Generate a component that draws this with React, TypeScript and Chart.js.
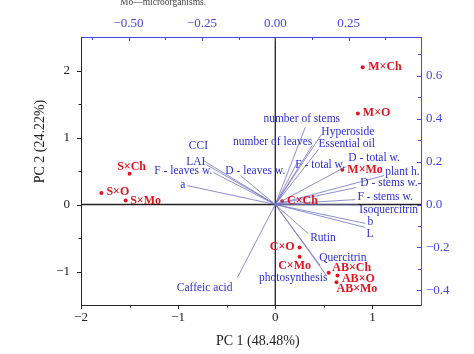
import React, { useEffect, useRef } from 'react';
import { Chart, registerables } from 'chart.js';
Chart.register(...registerables);

// ---- data ----
const treatments = ['M×Ch', 'M×O', 'M×Mo', 'C×Ch', 'C×O', 'C×Mo', 'AB×Ch', 'AB×O', 'AB×Mo', 'S×Ch', 'S×O', 'S×Mo'];
const pc1Scores = [0.90, 0.85, 0.69, 0.07, 0.25, 0.25, 0.55, 0.64, 0.63, -1.50, -1.79, -1.54];
const pc2Scores = [2.05, 1.36, 0.52, 0.05, -0.64, -0.78, -1.02, -1.06, -1.16, 0.46, 0.17, 0.06];

const variables = [
  'number of stems', 'Hyperoside', 'number of leaves', 'Essential oil', 'F - total w.', 'D - total w.',
  'plant h.', 'D - stems w.', 'F - stems w.', 'Isoquercitrin', 'b', 'L', 'Rutin', 'Quercitrin',
  'photosynthesis', 'Caffeic acid', 'a', 'F - leaves w.', 'LAI', 'CCI', 'D - leaves w.',
];
const pc1Loadings = [0.102, 0.157, 0.126, 0.147, 0.075, 0.242, 0.371, 0.276, 0.273, 0.283, 0.307, 0.307, 0.112, 0.153, 0.174, -0.129, -0.300, -0.211, -0.235, -0.245, -0.119];
const pc2Loadings = [0.359, 0.326, 0.275, 0.256, 0.196, 0.177, 0.135, 0.079, 0.023, -0.002, -0.088, -0.107, -0.135, -0.284, -0.330, -0.340, 0.088, 0.149, 0.186, 0.205, 0.135];

const pc1Ticks = [-2, -1, 0, 1];
const pc1Minor = [-1.5, -0.5, 0.5];
const pc2Ticks = [-1, 0, 1, 2];
const pc2Minor = [-0.5, 0.5, 1.5];
const load1Ticks = [-0.5, -0.25, 0, 0.25];
const load1Minor = [-0.625, -0.375, -0.125, 0.125, 0.375];
const load2Ticks = [-0.4, -0.2, 0, 0.2, 0.4, 0.6];
const load2Minor = [-0.3, -0.1, 0.1, 0.3, 0.5, 0.7];

// ---- label placement styles (pixel offsets, alignment) ----
type Place = [number, number, CanvasTextAlign];
const scoreLabelPlace: Place[] = [
  [5.5, 0, 'left'], [5, 0, 'left'], [5, 0, 'left'], [5, 0, 'left'], [-5, 0, 'right'], [-5, 9, 'center'],
  [3.5, -5, 'left'], [4.5, 3, 'left'], [0, 7, 'left'], [2, -7, 'center'], [5, -1, 'left'], [4.5, 0.5, 'left'],
];
const varLabelPlace: Place[] = [
  [-3.5, -8, 'center'], [0, -3, 'left'], [0, -3, 'right'], [0, -6, 'left'], [-2, 3, 'left'], [2, -9, 'left'],
  [1, -4, 'left'], [4, -5, 'left'], [2, -3, 'left'], [1, 5, 'left'], [2, -1, 'left'], [1, 7, 'left'],
  [2, 4, 'left'], [-1, -8, 'left'], [1, 3, 'right'], [-5, 10, 'right'], [-2, -1, 'right'], [-1, -2, 'right'],
  [-1, -3, 'right'], [-5, -14, 'center'], [-15, -5, 'left'],
];

const SERIF = "'Liberation Serif', 'Times New Roman', serif";
const RED = '#e3141f';
const BLUE_AXIS = '#4646e6';
const BLUE_TEXT = '#2f2fcf';
const VEC = 'rgba(115,115,195,0.8)';

const minus = (s: string) => s.replace('-', '\u2212');

function drawTickMarks(ctx: CanvasRenderingContext2D, scale: any, values: number[], len: number, side: string, color: string) {
  ctx.save();
  ctx.strokeStyle = color;
  ctx.lineWidth = 1;
  ctx.beginPath();
  for (const v of values) {
    const p = Math.round(scale.getPixelForValue(v)) + 0.5;
    if (side === 'bottom') { ctx.moveTo(p, scale.top); ctx.lineTo(p, scale.top + len); }
    if (side === 'top') { ctx.moveTo(p, scale.bottom); ctx.lineTo(p, scale.bottom + len); }
    if (side === 'left') { ctx.moveTo(scale.right, p); ctx.lineTo(scale.right - len, p); }
    if (side === 'right') { ctx.moveTo(scale.left, p); ctx.lineTo(scale.left - len, p); }
  }
  ctx.stroke();
  ctx.restore();
}

const overlay = {
  id: 'overlay',
  beforeDatasetsDraw(chart: any) {
    const { ctx, chartArea: a, scales } = chart;
    const x0 = scales.x.getPixelForValue(0);
    const y0 = scales.y.getPixelForValue(0);
    ctx.save();
    ctx.strokeStyle = '#222';
    ctx.lineWidth = 1.3;
    ctx.beginPath();
    ctx.moveTo(x0, a.top); ctx.lineTo(x0, a.bottom);
    ctx.moveTo(a.left, y0); ctx.lineTo(a.right, y0);
    ctx.stroke();
    ctx.restore();
  },
  afterDatasetsDraw(chart: any) {
    const { ctx, scales } = chart;
    ctx.save();
    ctx.textBaseline = 'middle';
    ctx.font = `11.5px ${SERIF}`;
    ctx.fillStyle = BLUE_TEXT;
    variables.forEach((name, i) => {
      const px = scales.x2.getPixelForValue(pc1Loadings[i]);
      const py = scales.y2.getPixelForValue(pc2Loadings[i]);
      const [dx, dy, al] = varLabelPlace[i];
      ctx.textAlign = al;
      ctx.fillText(name, px + dx, py + dy);
    });
    ctx.font = `bold 12px ${SERIF}`;
    ctx.fillStyle = RED;
    treatments.forEach((name, i) => {
      const px = scales.x.getPixelForValue(pc1Scores[i]);
      const py = scales.y.getPixelForValue(pc2Scores[i]);
      const [dx, dy, al] = scoreLabelPlace[i];
      ctx.textAlign = al;
      ctx.fillText(name, px + dx, py + dy);
    });
    ctx.restore();
  },
  afterDraw(chart: any) {
    const { ctx, scales, chartArea: a } = chart;
    drawTickMarks(ctx, scales.x, pc1Ticks, 4, 'bottom', '#222');
    drawTickMarks(ctx, scales.x, pc1Minor, 2.5, 'bottom', '#222');
    drawTickMarks(ctx, scales.y, pc2Ticks, 4, 'left', '#222');
    drawTickMarks(ctx, scales.y, pc2Minor, 2.5, 'left', '#222');
    drawTickMarks(ctx, scales.x2, load1Ticks, 4, 'top', BLUE_AXIS);
    drawTickMarks(ctx, scales.x2, load1Minor, 3, 'top', BLUE_AXIS);
    drawTickMarks(ctx, scales.y2, load2Ticks, 4, 'right', BLUE_AXIS);
    drawTickMarks(ctx, scales.y2, load2Minor, 3, 'right', BLUE_AXIS);
    ctx.save();
    ctx.fillStyle = '#222';
    ctx.font = `14px ${SERIF}`;
    ctx.textAlign = 'center';
    ctx.textBaseline = 'middle';
    ctx.fillText('PC 1 (48.48%)', a.left + (a.right - a.left) * 0.52, 341);
    ctx.translate(40, a.top + (a.bottom - a.top) * 0.39);
    ctx.rotate(-Math.PI / 2);
    ctx.fillText('PC 2 (24.22%)', 0, 0);
    ctx.restore();
    ctx.save();
    ctx.fillStyle = '#444';
    ctx.font = `9.5px ${SERIF}`;
    ctx.textAlign = 'left';
    ctx.textBaseline = 'alphabetic';
    ctx.fillText('Mo\u2014microorganisms.', 120, 5);
    ctx.restore();
  },
};

export default function App() {
  const ref = useRef<HTMLCanvasElement | null>(null);
  useEffect(() => {
    if (!ref.current) return;
    const datasets: any[] = variables.map((v, i) => ({
      label: v,
      type: 'scatter',
      data: [{ x: 0, y: 0 }, { x: pc1Loadings[i], y: pc2Loadings[i] }],
      xAxisID: 'x2',
      yAxisID: 'y2',
      showLine: true,
      borderColor: VEC,
      borderWidth: 1,
      pointRadius: 0,
      fill: false,
    }));
    datasets.push({
      label: 'scores',
      type: 'scatter',
      data: pc1Scores.map((x, i) => ({ x, y: pc2Scores[i] })),
      xAxisID: 'x',
      yAxisID: 'y',
      pointRadius: 2,
      pointBackgroundColor: RED,
      pointBorderColor: RED,
      pointBorderWidth: 0,
    });
    const tickFont = { family: SERIF, size: 13 };
    const chart = new Chart(ref.current, {
      type: 'scatter',
      data: { datasets },
      options: {
        animation: false,
        responsive: false,
        devicePixelRatio: 1,
        layout: { padding: 0 },
        plugins: { legend: { display: false }, tooltip: { enabled: false } },
        scales: {
          x: {
            type: 'linear', position: 'bottom', min: -2, max: 1.5,
            afterBuildTicks: (s: any) => { s.ticks = pc1Ticks.map((value) => ({ value })); },
            afterFit: (s: any) => { s.height = 49; },
            grid: { display: false, drawTicks: false },
            border: { display: true, color: '#222', width: 1 },
            ticks: { color: '#222', font: tickFont, padding: 5, callback: (v: any) => minus(String(v)) },
          },
          y: {
            type: 'linear', position: 'left', min: -1.5, max: 2.5,
            afterBuildTicks: (s: any) => { s.ticks = pc2Ticks.map((value) => ({ value })); },
            afterFit: (s: any) => { s.width = 81; },
            grid: { display: false, drawTicks: false },
            border: { display: true, color: '#222', width: 1 },
            ticks: { color: '#222', font: tickFont, padding: 11, callback: (v: any) => minus(String(v)) },
          },
          x2: {
            type: 'linear', position: 'top', min: -0.662, max: 0.4965,
            afterBuildTicks: (s: any) => { s.ticks = load1Ticks.map((value) => ({ value })); },
            afterFit: (s: any) => { s.height = 37; },
            grid: { display: false, drawTicks: false },
            border: { display: true, color: BLUE_AXIS, width: 1 },
            ticks: { color: BLUE_AXIS, font: tickFont, padding: 6, callback: (v: any) => minus(Number(v).toFixed(2)) },
          },
          y2: {
            type: 'linear', position: 'right', min: -0.468, max: 0.78,
            afterBuildTicks: (s: any) => { s.ticks = load2Ticks.map((value) => ({ value })); },
            afterFit: (s: any) => { s.width = 53; },
            grid: { display: false, drawTicks: false },
            border: { display: true, color: BLUE_AXIS, width: 1 },
            ticks: { color: BLUE_AXIS, font: tickFont, padding: 5, callback: (v: any) => minus(Number(v).toFixed(1)) },
          },
        },
      },
      plugins: [overlay],
    } as any);
    return () => chart.destroy();
  }, []);
  return (
    <div style={{ position: 'fixed', left: 0, top: 0, width: 474, height: 354, background: '#fff' }}>
      <canvas ref={ref} width={474} height={354} style={{ display: 'block', width: 474, height: 354 }} />
    </div>
  );
}
